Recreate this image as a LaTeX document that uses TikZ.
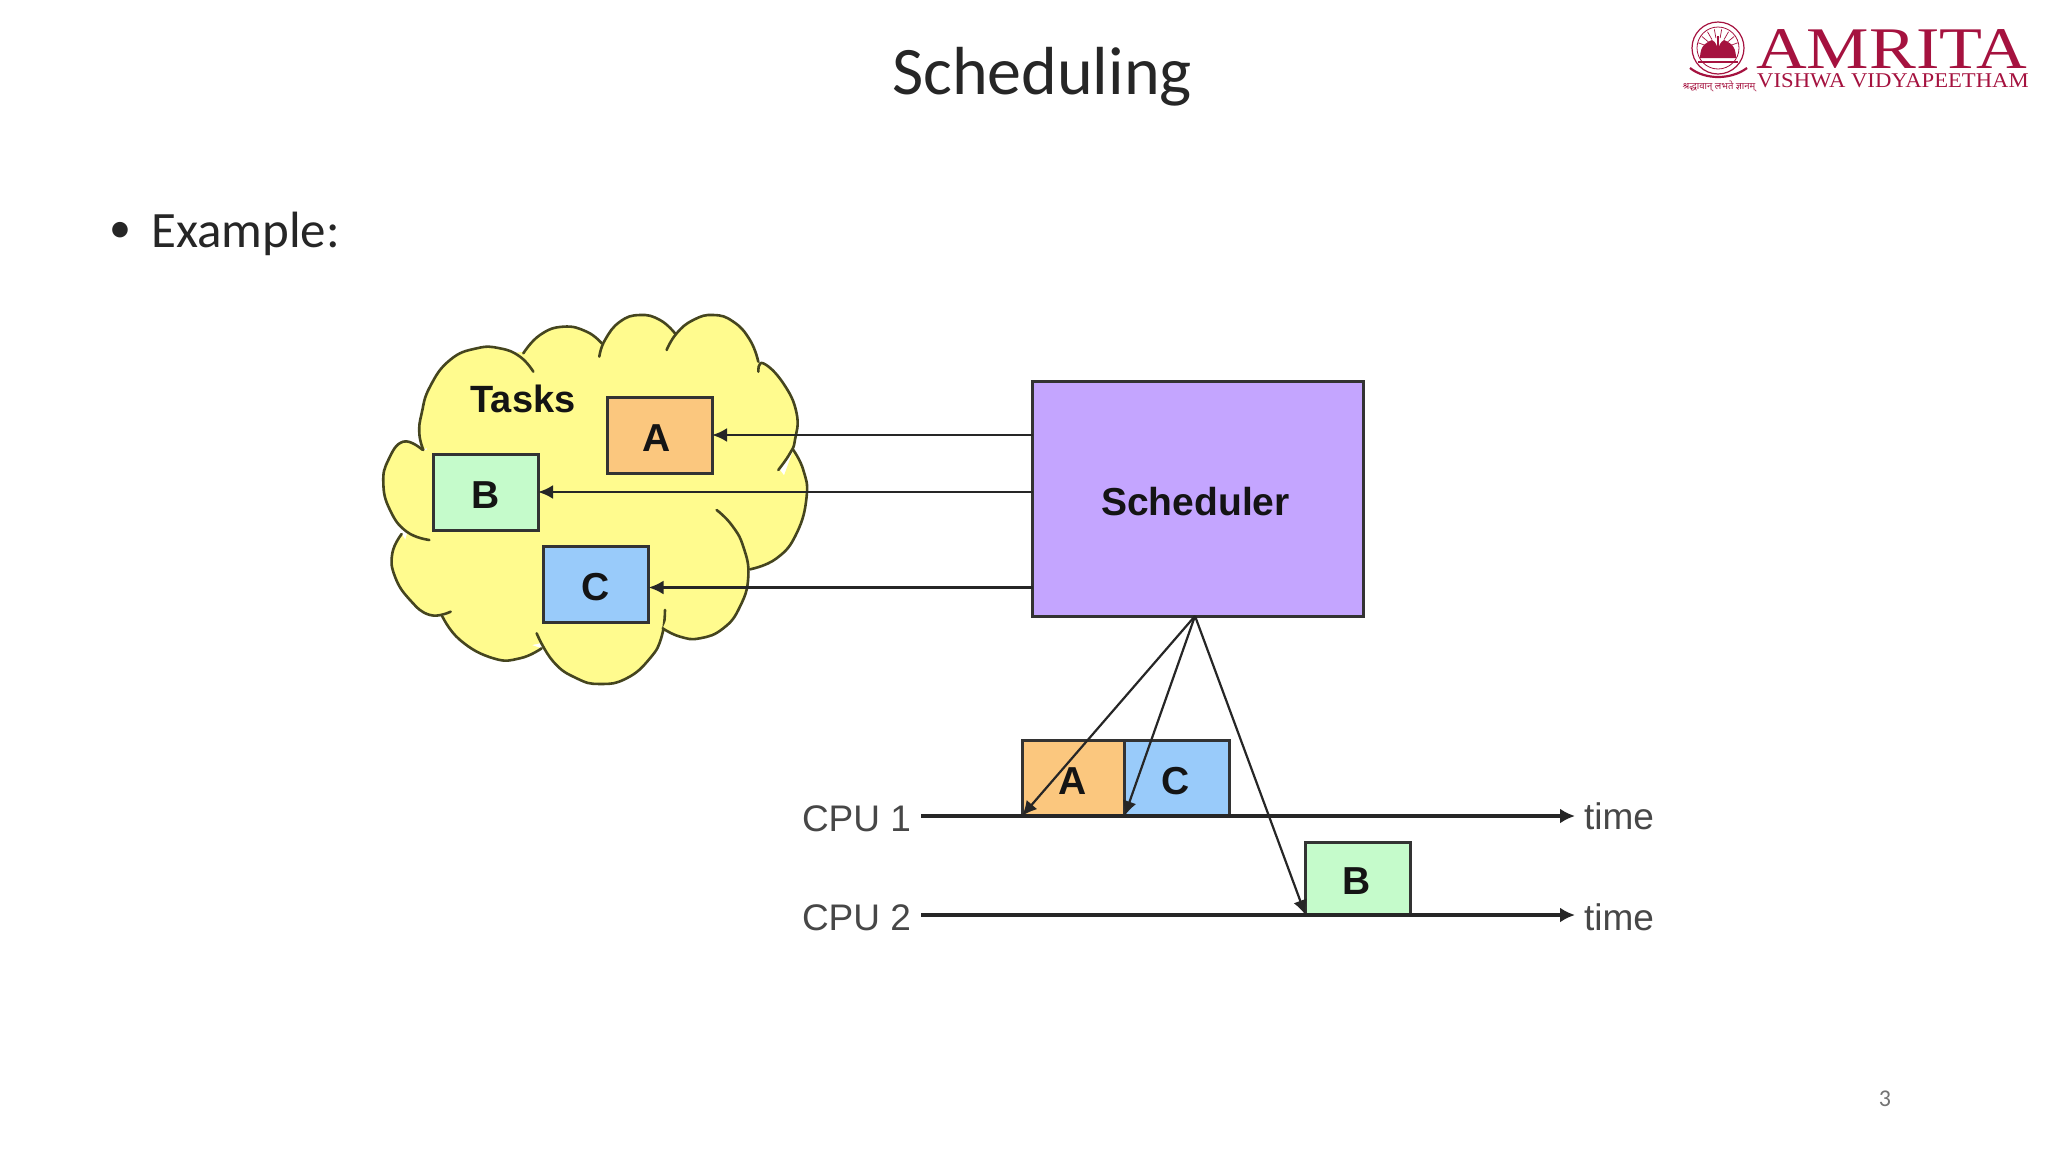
\documentclass[tikz,border=0pt]{standalone}
\usepackage{fontspec}
\setmainfont{Liberation Sans}
\newfontfamily\slidefont{Carlito}
\newfontfamily\logofont{Liberation Serif}
\newfontfamily\devafont[Script=Devanagari]{Noto Sans}
\usetikzlibrary{arrows.meta}
\definecolor{cloudfill}{HTML}{FFFB8E}
\definecolor{cloudline}{HTML}{45451F}
\definecolor{orangebox}{HTML}{FBC77E}
\definecolor{greenbox}{HTML}{C5FBCB}
\definecolor{bluebox}{HTML}{99CBFA}
\definecolor{purplebox}{HTML}{C4A5FF}
\definecolor{crimson}{HTML}{A5123F}
\definecolor{inktext}{HTML}{141414}
\newcommand{\fsz}[1]{\fontsize{#1}{#1}\selectfont}
\newcommand{\lobeline}[1]{\fill[cloudfill] plot[smooth,tension=.8] coordinates {#1};\draw[lobe] plot[smooth,tension=.8] coordinates {#1};}
\newcommand{\lowered}[1]{\raisebox{-3pt}[\height][\depth]{#1}}
\tikzset{
  taskbox/.style={draw=black!80,line width=3pt,inner sep=0pt,outer sep=0pt,font=\fsz{39}\bfseries,text=inktext},
  lobe/.style={draw=cloudline,line width=2.6pt,line cap=round},
  sendarrow/.style={draw=black!85,line width=2.8pt,-{Latex[length=15pt,width=14pt]}},
  axisarrow/.style={draw=black!85,line width=3.2pt,-{Latex[length=15pt,width=15pt]}},
  axislabel/.style={font=\fsz{37},text=black!72,inner ysep=0pt,outer sep=0pt},
  seal/.style={draw=crimson,line width=1.2pt}
}
\begin{document}
\begin{tikzpicture}[x=1pt,y=-1pt]
\useasboundingbox[fill=white] (0,0) rectangle (2048,1152);

% slide text
\node (title) at (1042,77) {\slidefont\fsz{68}\color{black!85}Scheduling};
\node (bullet) at (120,232) {\slidefont\fsz{44}\color{black!85}•};
\node[anchor=west,inner sep=0pt] (example) at (151,234) {\slidefont\fsz{51}\color{black!85}Example:};
\node (page) at (1885,1099) {\slidefont\fsz{24}\color{black!55}3};

% logo
\draw[seal] (1718,48) circle (26);
\draw[seal,line width=.8pt] (1718,48) circle (21);
\fill[crimson] (1700,58) .. controls (1700,44) and (1708,42) .. (1712,40) .. controls (1716,42) and (1717,46) .. (1718,50) .. controls (1719,46) and (1720,42) .. (1724,40) .. controls (1728,42) and (1736,44) .. (1736,58) -- cycle;
\draw[crimson,line width=1.4pt] (1718,50) -- (1718,36);
\foreach \a in {200,220,...,340}{\draw[crimson,line width=.7pt] (1718,50) ++(\a:12) -- ++(\a:9);}
\draw[crimson,line width=1.2pt] (1698,62) -- (1738,62);
\draw[crimson,line width=2.2pt] (1690,68) .. controls (1705,80) and (1731,80) .. (1747,68);
\node[inner sep=0pt,anchor=center] (logocap) at (1719,86) {\devafont\fsz{9.5}\color{crimson}श्रद्धावान् लभते ज्ञानम्};
\node[inner sep=0pt,anchor=base west,xscale=1.19,transform shape] (logoa) at (1756,68) {\logofont\fsz{59}\color{crimson}AMRITA};
\node[inner sep=0pt,anchor=base west,xscale=1.08,transform shape] (logob) at (1757,87) {\logofont\fsz{21}\color{crimson}VISHWA VIDYAPEETHAM};

% cloud
\begin{scope}[xshift=360pt,yshift=-290pt,x=.3333pt,y=-.3333pt]
  \fill[cloudfill] (200,480) -- (200,400) -- (230,300) -- (360,200) -- (495,185) -- (610,130) -- (727,155) -- (840,100) -- (945,130) -- (1060,100) -- (1197,215) -- (1280,320) -- (1260,540) -- (1320,620) -- (1250,780) -- (1165,840) -- (1020,1020) -- (910,1025) -- (860,1100) -- (720,1160) -- (600,1100) -- (540,1060) -- (400,1090) -- (250,972) -- (130,860) -- (130,770) -- (150,700) -- (100,600) -- (130,490) -- cycle;
  \lobeline{(188,480) (130,455) (85,510) (70,580) (90,660) (140,725) (208,750)}
  \lobeline{(125,732) (97,790) (105,860) (150,930) (210,975) (272,965)}
  \lobeline{(245,975) (300,1050) (400,1105) (480,1105) (545,1075)}
  \lobeline{(530,1030) (580,1115) (650,1165) (720,1182) (800,1165) (870,1105) (905,1040) (915,960)}
  \lobeline{(908,1015) (960,1040) (1020,1045) (1090,1015) (1140,950) (1165,860) (1150,770) (1115,705) (1070,660)}
  \lobeline{(1170,838) (1250,805) (1310,730) (1340,620) (1330,540) (1300,480)}
  \lobeline{(1195,245) (1210,220) (1270,280) (1310,370) (1305,450) (1290,490) (1255,540)}
  \lobeline{(1195,215) (1170,150) (1120,95) (1060,75) (1000,90) (950,130) (920,180)}
  \lobeline{(945,130) (900,90) (840,75) (780,95) (735,150) (718,200)}
  \lobeline{(725,160) (680,125) (610,110) (540,135) (490,190)}
  \lobeline{(520,245) (480,200) (420,175) (350,175) (270,210) (210,290) (185,370) (178,430) (190,480)}
\end{scope}
\node[font=\fsz{38}\bfseries,text=inktext,inner sep=0pt] (tasks) at (523,399) {Tasks};

% task boxes
\node[taskbox,fill=orangebox,minimum width=105pt,minimum height=76pt] (a) at (659.5,435) {\lowered{\kern-5pt A}};
\node[taskbox,fill=greenbox,minimum width=105pt,minimum height=76pt] (b) at (485.5,492) {\lowered{B}};
\node[taskbox,fill=bluebox,minimum width=105pt,minimum height=76pt] (c) at (596,584.5) {\lowered{C}};
\node[taskbox,fill=purplebox,minimum width=331pt,minimum height=235pt] (sched) at (1198,498.5) {\lowered{\kern-5pt Scheduler}};

\draw[sendarrow] (sched.west |- a.east) -- (a.east);
\draw[sendarrow] (sched.west |- b.east) -- (b.east);
\draw[sendarrow] ([yshift=-3pt]sched.west |- c.east) -- ([yshift=-3pt]c.east);

% timelines
\node[axislabel,anchor=east,inner xsep=10pt] (cpua) at (921,819) {CPU 1};
\node[axislabel,anchor=east,inner xsep=10pt] (cpub) at (921,918) {CPU 2};
\node[axislabel,anchor=west,inner xsep=9pt] (timea) at (1575,816) {time};
\node[axislabel,anchor=west,inner xsep=9pt] (timeb) at (1575,917) {time};

\node[taskbox,fill=orangebox,minimum width=102pt,minimum height=76pt] (ra) at (1073,778) {\lowered{A}};
\node[taskbox,fill=bluebox,minimum width=105pt,minimum height=76pt] (rc) at (1177,778) {\lowered{\kern-3pt C}};
\node[taskbox,fill=greenbox,minimum width=105pt,minimum height=73pt] (rb) at (1358,878.5) {\lowered{\kern-3pt B}};

\draw[axisarrow] (cpua.east |- ra.south) -- (timea.west |- ra.south);
\draw[axisarrow] (cpub.east |- rb.south) -- (timeb.west |- rb.south);

\draw[sendarrow,line width=2.2pt] ([xshift=-3pt]sched.south) -- (ra.south west);
\draw[sendarrow,line width=2.2pt] ([xshift=-3pt]sched.south) -- (rc.south west);
\draw[sendarrow,line width=2.2pt] ([xshift=-3pt]sched.south) -- (rb.south west);
\end{tikzpicture}
\end{document}
